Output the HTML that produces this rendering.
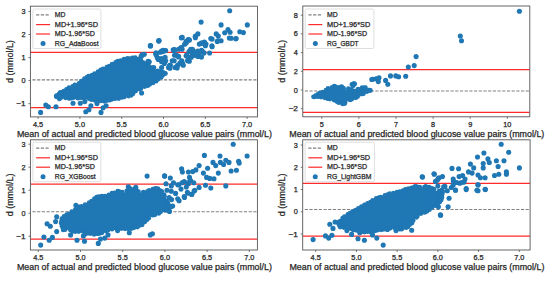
<!DOCTYPE html>
<html><head><meta charset="utf-8"><style>
html,body{margin:0;padding:0;background:#fff;width:550px;height:281px;overflow:hidden;}
svg{display:block;font-family:"Liberation Sans", sans-serif;}
text{stroke:#262626;stroke-width:0.25px;}
</style></head><body>
<svg width="550" height="281" viewBox="0 0 550 281" font-family='"Liberation Sans", sans-serif'>
<rect width="550" height="281" fill="#ffffff"/>
<g fill="#1f77b4">
<clipPath id="cTL"><rect x="30.4" y="6.2" width="227.1" height="110.7"/></clipPath>
<g clip-path="url(#cTL)">
<line x1="32.4" y1="79.9" x2="257.5" y2="79.9" stroke="#808080" stroke-width="1.1" stroke-dasharray="3.2 1.5"/>
<line x1="30.4" y1="52.4" x2="257.5" y2="52.4" stroke="#ff2a2a" stroke-width="1.2"/>
<line x1="30.4" y1="107.6" x2="257.5" y2="107.6" stroke="#ff2a2a" stroke-width="1.2"/>
<polygon points="57.3,95.67 57.3,96.32 62.79,97.32 70.66,98.29 82.69,97.6 82.88,97.6 83.07,97.62 83.26,97.66 91.23,99.62 105.01,101.08 116.91,98.64 130.6,95.75 137.32,89.6 137.47,89.47 137.63,89.36 137.81,89.27 137.99,89.2 145.31,86.73 154,82.87 161.73,76.59 164.94,73.38 162.24,71.76 155.48,69.83 155.31,69.77 155.15,69.7 154.99,69.61 139.03,59.64 135.15,57.48 125.78,58.96 118.02,60.88 108.05,66.64 107.96,66.7 97.86,71.79 87.76,76.94 77.75,83.58 77.54,83.71 67.45,88.65 61.49,92.66"/>
<circle cx="56.94" cy="95.54" r="2.4"/>
<circle cx="59.14" cy="93.94" r="2.4"/>
<circle cx="61.72" cy="92.41" r="2.4"/>
<circle cx="63.84" cy="91.15" r="2.4"/>
<circle cx="66.46" cy="89.31" r="2.4"/>
<circle cx="68.96" cy="87.56" r="2.4"/>
<circle cx="72.67" cy="86.47" r="2.4"/>
<circle cx="74.9" cy="84.78" r="2.4"/>
<circle cx="79.01" cy="83.29" r="2.4"/>
<circle cx="81.36" cy="81.13" r="2.4"/>
<circle cx="84.42" cy="78.73" r="2.4"/>
<circle cx="87.08" cy="77.23" r="2.4"/>
<circle cx="88.64" cy="76.16" r="2.4"/>
<circle cx="92.04" cy="75.13" r="2.4"/>
<circle cx="94.65" cy="73.57" r="2.4"/>
<circle cx="98.1" cy="71.6" r="2.4"/>
<circle cx="100.73" cy="69.96" r="2.4"/>
<circle cx="102.97" cy="68.97" r="2.4"/>
<circle cx="106.84" cy="67.24" r="2.4"/>
<circle cx="109.33" cy="66.05" r="2.4"/>
<circle cx="112.19" cy="64.1" r="2.4"/>
<circle cx="115.65" cy="62.51" r="2.4"/>
<circle cx="117.62" cy="61.24" r="2.4"/>
<circle cx="120.66" cy="60.63" r="2.4"/>
<circle cx="123.99" cy="59.26" r="2.4"/>
<circle cx="127.39" cy="58.41" r="2.4"/>
<circle cx="129.77" cy="58.62" r="2.4"/>
<circle cx="132.51" cy="57.94" r="2.4"/>
<circle cx="135.14" cy="57.65" r="2.4"/>
<circle cx="138.12" cy="59.26" r="2.4"/>
<circle cx="141.08" cy="60.78" r="2.4"/>
<circle cx="143.44" cy="62.55" r="2.4"/>
<circle cx="146.09" cy="64.06" r="2.4"/>
<circle cx="148.96" cy="66.37" r="2.4"/>
<circle cx="151.33" cy="67.56" r="2.4"/>
<circle cx="153.49" cy="68.94" r="2.4"/>
<circle cx="157.8" cy="71" r="2.4"/>
<circle cx="161.36" cy="71.36" r="2.4"/>
<circle cx="163.05" cy="72.48" r="2.4"/>
<circle cx="164.99" cy="73.33" r="2.4"/>
<circle cx="165.37" cy="73.55" r="2.4"/>
<circle cx="163.15" cy="74.75" r="2.4"/>
<circle cx="161.18" cy="77.26" r="2.4"/>
<circle cx="157.99" cy="79.13" r="2.4"/>
<circle cx="156.11" cy="81.15" r="2.4"/>
<circle cx="153.14" cy="82.82" r="2.4"/>
<circle cx="149.79" cy="84.32" r="2.4"/>
<circle cx="147.8" cy="85.65" r="2.4"/>
<circle cx="144.73" cy="86.51" r="2.4"/>
<circle cx="140.96" cy="88.48" r="2.4"/>
<circle cx="139.07" cy="89.04" r="2.4"/>
<circle cx="135.63" cy="91.09" r="2.4"/>
<circle cx="132.96" cy="93.81" r="2.4"/>
<circle cx="131.17" cy="95.25" r="2.4"/>
<circle cx="128.59" cy="96.06" r="2.4"/>
<circle cx="124.48" cy="96.82" r="2.4"/>
<circle cx="122.02" cy="97.4" r="2.4"/>
<circle cx="118.71" cy="98.62" r="2.4"/>
<circle cx="115.06" cy="98.71" r="2.4"/>
<circle cx="111.93" cy="99.34" r="2.4"/>
<circle cx="109.6" cy="100.18" r="2.4"/>
<circle cx="106.84" cy="100.53" r="2.4"/>
<circle cx="104.31" cy="101.35" r="2.4"/>
<circle cx="100.86" cy="100.9" r="2.4"/>
<circle cx="97.43" cy="100.63" r="2.4"/>
<circle cx="94.76" cy="100.26" r="2.4"/>
<circle cx="91.41" cy="99.72" r="2.4"/>
<circle cx="88.73" cy="98.61" r="2.4"/>
<circle cx="84.51" cy="98.24" r="2.4"/>
<circle cx="81.41" cy="97.76" r="2.4"/>
<circle cx="78.01" cy="98.16" r="2.4"/>
<circle cx="73.95" cy="97.61" r="2.4"/>
<circle cx="71.37" cy="98.22" r="2.4"/>
<circle cx="69.07" cy="98.41" r="2.4"/>
<circle cx="65.47" cy="97.81" r="2.4"/>
<circle cx="61.57" cy="97.36" r="2.4"/>
<circle cx="59.8" cy="96.31" r="2.4"/>
<circle cx="56.66" cy="96.85" r="2.4"/>
<circle cx="40.6" cy="112.4" r="2.55"/>
<circle cx="45.8" cy="105.1" r="2.55"/>
<circle cx="48.3" cy="106.7" r="2.55"/>
<circle cx="56" cy="106.7" r="2.55"/>
<circle cx="56.4" cy="96.1" r="2.55"/>
<circle cx="60.4" cy="92.5" r="2.55"/>
<circle cx="59.4" cy="98.6" r="2.55"/>
<circle cx="73" cy="103.2" r="2.55"/>
<circle cx="80.3" cy="103.2" r="2.55"/>
<circle cx="85.8" cy="111.8" r="2.55"/>
<circle cx="88.9" cy="109.7" r="2.55"/>
<circle cx="90.9" cy="105.7" r="2.55"/>
<circle cx="101" cy="112.4" r="2.55"/>
<circle cx="103.1" cy="107.7" r="2.55"/>
<circle cx="106.1" cy="105.7" r="2.55"/>
<circle cx="84.8" cy="101.6" r="2.55"/>
<circle cx="97" cy="103.6" r="2.55"/>
<circle cx="141.6" cy="93" r="2.55"/>
<circle cx="229.7" cy="10.7" r="2.55"/>
<circle cx="201.1" cy="22.1" r="2.55"/>
<circle cx="221.1" cy="24.9" r="2.55"/>
<circle cx="247.3" cy="24.9" r="2.55"/>
<circle cx="228" cy="29.6" r="2.55"/>
<circle cx="224.7" cy="32.8" r="2.55"/>
<circle cx="230.1" cy="32.2" r="2.55"/>
<circle cx="239.8" cy="31.7" r="2.55"/>
<circle cx="243.4" cy="32.6" r="2.55"/>
<circle cx="216.2" cy="33.9" r="2.55"/>
<circle cx="218.3" cy="36" r="2.55"/>
<circle cx="197.9" cy="33.9" r="2.55"/>
<circle cx="195.4" cy="37.8" r="2.55"/>
<circle cx="181.8" cy="37.8" r="2.55"/>
<circle cx="158.9" cy="40.8" r="2.55"/>
<circle cx="150.3" cy="45.9" r="2.55"/>
<circle cx="210.8" cy="38.6" r="2.55"/>
<circle cx="231.2" cy="38.2" r="2.55"/>
<circle cx="236.1" cy="38.6" r="2.55"/>
<circle cx="221.1" cy="40.8" r="2.55"/>
<circle cx="217.2" cy="41.4" r="2.55"/>
<circle cx="204.4" cy="42" r="2.55"/>
<circle cx="201.1" cy="43.5" r="2.55"/>
<circle cx="205.4" cy="45.7" r="2.55"/>
<circle cx="211.9" cy="45.7" r="2.55"/>
<circle cx="186.1" cy="41.4" r="2.55"/>
<circle cx="188.3" cy="39.9" r="2.55"/>
<circle cx="184.6" cy="44.2" r="2.55"/>
<circle cx="180.8" cy="47.8" r="2.55"/>
<circle cx="174.3" cy="50" r="2.55"/>
<circle cx="165.7" cy="50.6" r="2.55"/>
<circle cx="161.5" cy="51.1" r="2.55"/>
<circle cx="156.1" cy="52.8" r="2.55"/>
<circle cx="191.5" cy="50" r="2.55"/>
<circle cx="197.9" cy="51.1" r="2.55"/>
<circle cx="202.2" cy="51.1" r="2.55"/>
<circle cx="192.6" cy="54.3" r="2.55"/>
<circle cx="186.1" cy="55.8" r="2.55"/>
<circle cx="178.6" cy="56.4" r="2.55"/>
<circle cx="197.9" cy="56.4" r="2.55"/>
<circle cx="141.1" cy="56.4" r="2.55"/>
<circle cx="144.3" cy="54.3" r="2.55"/>
<circle cx="157.2" cy="57.5" r="2.55"/>
<circle cx="161.5" cy="58.6" r="2.55"/>
<circle cx="165.7" cy="60.7" r="2.55"/>
<circle cx="148.6" cy="61.8" r="2.55"/>
<circle cx="172.2" cy="60.7" r="2.55"/>
<circle cx="181.8" cy="60.7" r="2.55"/>
<circle cx="158.7" cy="41.1" r="2.55"/>
<circle cx="150.6" cy="45.6" r="2.55"/>
<circle cx="182.2" cy="37.4" r="2.55"/>
<circle cx="188.3" cy="39.5" r="2.55"/>
<circle cx="186.3" cy="42.7" r="2.55"/>
<circle cx="195.2" cy="36.6" r="2.55"/>
<circle cx="201.9" cy="42.7" r="2.55"/>
<circle cx="206" cy="44.1" r="2.55"/>
<circle cx="212.1" cy="39.1" r="2.55"/>
<circle cx="218.1" cy="40.7" r="2.55"/>
<circle cx="212.1" cy="46.8" r="2.55"/>
<circle cx="199.3" cy="44.1" r="2.55"/>
<circle cx="229.3" cy="38" r="2.55"/>
<circle cx="235.8" cy="38.7" r="2.55"/>
<circle cx="174.5" cy="49.6" r="2.55"/>
<circle cx="178.6" cy="49.2" r="2.55"/>
<circle cx="181.6" cy="47.6" r="2.55"/>
<circle cx="190.7" cy="49.2" r="2.55"/>
<circle cx="193.8" cy="51.2" r="2.55"/>
<circle cx="200.9" cy="51.2" r="2.55"/>
<circle cx="203.9" cy="52.9" r="2.55"/>
<circle cx="164.4" cy="50.8" r="2.55"/>
<circle cx="160.3" cy="52.3" r="2.55"/>
<circle cx="156.2" cy="54.3" r="2.55"/>
<circle cx="174.5" cy="55.3" r="2.55"/>
<circle cx="178.6" cy="56.9" r="2.55"/>
<circle cx="187.7" cy="60.4" r="2.55"/>
<circle cx="182.6" cy="63.4" r="2.55"/>
<circle cx="189.7" cy="57.3" r="2.55"/>
<circle cx="194.8" cy="55.3" r="2.55"/>
<circle cx="198.9" cy="56.3" r="2.55"/>
<circle cx="175.5" cy="67.5" r="2.55"/>
<circle cx="177.5" cy="65.4" r="2.55"/>
<circle cx="142" cy="54.9" r="2.55"/>
<circle cx="148.1" cy="61.4" r="2.55"/>
<circle cx="158.3" cy="59.4" r="2.55"/>
<circle cx="164.4" cy="63.4" r="2.55"/>
<circle cx="170.4" cy="65.4" r="2.55"/>
<circle cx="159" cy="40.6" r="2.55"/>
<circle cx="150.5" cy="45.8" r="2.55"/>
<circle cx="148.9" cy="62.1" r="2.55"/>
<circle cx="156" cy="54.4" r="2.55"/>
<circle cx="163.1" cy="50.3" r="2.55"/>
<circle cx="173.2" cy="49.9" r="2.55"/>
<circle cx="181.3" cy="37.7" r="2.55"/>
<circle cx="185.4" cy="43.2" r="2.55"/>
<circle cx="189.5" cy="40.1" r="2.55"/>
<circle cx="195.5" cy="36.1" r="2.55"/>
<circle cx="170" cy="68.3" r="2.55"/>
<circle cx="177.1" cy="67.9" r="2.55"/>
<circle cx="182.2" cy="64.2" r="2.55"/>
<circle cx="189.3" cy="61.2" r="2.55"/>
<circle cx="201.5" cy="57.1" r="2.55"/>
<circle cx="209.6" cy="53" r="2.55"/>
<circle cx="142.3" cy="55" r="2.55"/>
<circle cx="149.1" cy="61.8" r="2.55"/>
<circle cx="156" cy="53.8" r="2.55"/>
<circle cx="158.2" cy="58.4" r="2.55"/>
<circle cx="161.6" cy="61.8" r="2.55"/>
<circle cx="162.8" cy="51.6" r="2.55"/>
<circle cx="165.1" cy="57.3" r="2.55"/>
<circle cx="169.6" cy="65.2" r="2.55"/>
<circle cx="174.2" cy="50.4" r="2.55"/>
<circle cx="176.4" cy="55" r="2.55"/>
<circle cx="174.2" cy="60.7" r="2.55"/>
<circle cx="182.1" cy="49.3" r="2.55"/>
<circle cx="179.9" cy="63" r="2.55"/>
<circle cx="183.3" cy="65.2" r="2.55"/>
<circle cx="187.8" cy="60.7" r="2.55"/>
<circle cx="189" cy="51.6" r="2.55"/>
<circle cx="192.4" cy="49.3" r="2.55"/>
<circle cx="194.7" cy="55" r="2.55"/>
<circle cx="199.2" cy="52.7" r="2.55"/>
<circle cx="201.5" cy="50.4" r="2.55"/>
<circle cx="203.8" cy="52.7" r="2.55"/>
<circle cx="191.3" cy="57.3" r="2.55"/>
<circle cx="186.7" cy="55" r="2.55"/>
<circle cx="144.6" cy="67.5" r="2.55"/>
<circle cx="153.7" cy="67.5" r="2.55"/>
<circle cx="161.6" cy="67.5" r="2.55"/>
<circle cx="168.5" cy="67.5" r="2.55"/>
<circle cx="175.3" cy="67.5" r="2.55"/>
</g>
<rect x="30.4" y="6.2" width="227.1" height="110.7" fill="none" stroke="#555555" stroke-width="0.9"/>
<line x1="38.1" y1="116.9" x2="38.1" y2="118.9" stroke="#555555" stroke-width="0.8"/>
<text x="38.1" y="127.1" text-anchor="middle" font-size="7" fill="#262626" textLength="10.18" lengthAdjust="spacingAndGlyphs">4.5</text>
<line x1="79.9" y1="116.9" x2="79.9" y2="118.9" stroke="#555555" stroke-width="0.8"/>
<text x="79.9" y="127.1" text-anchor="middle" font-size="7" fill="#262626" textLength="10.18" lengthAdjust="spacingAndGlyphs">5.0</text>
<line x1="121.7" y1="116.9" x2="121.7" y2="118.9" stroke="#555555" stroke-width="0.8"/>
<text x="121.7" y="127.1" text-anchor="middle" font-size="7" fill="#262626" textLength="10.18" lengthAdjust="spacingAndGlyphs">5.5</text>
<line x1="163.5" y1="116.9" x2="163.5" y2="118.9" stroke="#555555" stroke-width="0.8"/>
<text x="163.5" y="127.1" text-anchor="middle" font-size="7" fill="#262626" textLength="10.18" lengthAdjust="spacingAndGlyphs">6.0</text>
<line x1="205.3" y1="116.9" x2="205.3" y2="118.9" stroke="#555555" stroke-width="0.8"/>
<text x="205.3" y="127.1" text-anchor="middle" font-size="7" fill="#262626" textLength="10.18" lengthAdjust="spacingAndGlyphs">6.5</text>
<line x1="247.1" y1="116.9" x2="247.1" y2="118.9" stroke="#555555" stroke-width="0.8"/>
<text x="247.1" y="127.1" text-anchor="middle" font-size="7" fill="#262626" textLength="10.18" lengthAdjust="spacingAndGlyphs">7.0</text>
<line x1="28.4" y1="103.65" x2="30.4" y2="103.65" stroke="#555555" stroke-width="0.8"/>
<text x="25.5" y="106.15" text-anchor="end" font-size="7" fill="#262626" textLength="9.43" lengthAdjust="spacingAndGlyphs">−1</text>
<line x1="28.4" y1="80.6" x2="30.4" y2="80.6" stroke="#555555" stroke-width="0.8"/>
<text x="25.5" y="83.1" text-anchor="end" font-size="7" fill="#262626" textLength="4.07" lengthAdjust="spacingAndGlyphs">0</text>
<line x1="28.4" y1="57.55" x2="30.4" y2="57.55" stroke="#555555" stroke-width="0.8"/>
<text x="25.5" y="60.05" text-anchor="end" font-size="7" fill="#262626" textLength="4.07" lengthAdjust="spacingAndGlyphs">1</text>
<line x1="28.4" y1="34.5" x2="30.4" y2="34.5" stroke="#555555" stroke-width="0.8"/>
<text x="25.5" y="37" text-anchor="end" font-size="7" fill="#262626" textLength="4.07" lengthAdjust="spacingAndGlyphs">2</text>
<line x1="28.4" y1="11.45" x2="30.4" y2="11.45" stroke="#555555" stroke-width="0.8"/>
<text x="25.5" y="13.95" text-anchor="end" font-size="7" fill="#262626" textLength="4.07" lengthAdjust="spacingAndGlyphs">3</text>
<text x="144.45" y="136.8" text-anchor="middle" font-size="8.9" fill="#262626" textLength="255" lengthAdjust="spacingAndGlyphs">Mean of actual and predicted blood glucose value pairs (mmol/L)</text>
<text transform="translate(12.8,61.55) rotate(-90)" x="0" y="0" text-anchor="middle" font-size="8.9" fill="#262626" textLength="42.8" lengthAdjust="spacingAndGlyphs">d (mmol/L)</text>
<rect x="32.9" y="9" width="68" height="39.5" rx="1.5" fill="#ffffff" fill-opacity="0.8" stroke="#d5d5d5" stroke-width="0.8"/>
<line x1="36.1" y1="14.9" x2="50" y2="14.9" stroke="#808080" stroke-width="1.1" stroke-dasharray="3.2 1.5"/>
<line x1="36.1" y1="24.6" x2="50" y2="24.6" stroke="#ff2a2a" stroke-width="1.2"/>
<line x1="36.1" y1="34" x2="50" y2="34" stroke="#ff2a2a" stroke-width="1.2"/>
<circle cx="43.05" cy="43.6" r="2.5" fill="#1f77b4"/>
<text x="54.8" y="17.1" font-size="7.3" fill="#262626" textLength="10.68" lengthAdjust="spacingAndGlyphs">MD</text>
<text x="54.8" y="26.8" font-size="7.3" fill="#262626" textLength="43.18" lengthAdjust="spacingAndGlyphs">MD+1.96*SD</text>
<text x="54.8" y="36.2" font-size="7.3" fill="#262626" textLength="40.06" lengthAdjust="spacingAndGlyphs">MD-1.96*SD</text>
<text x="54.8" y="45.8" font-size="7.3" fill="#262626" textLength="43.86" lengthAdjust="spacingAndGlyphs">RG_AdaBoost</text>
<clipPath id="cTR"><rect x="302.8" y="6" width="227" height="110.8"/></clipPath>
<g clip-path="url(#cTR)">
<line x1="304.8" y1="91" x2="529.8" y2="91" stroke="#808080" stroke-width="1.1" stroke-dasharray="3.2 1.5"/>
<line x1="302.8" y1="69.7" x2="529.8" y2="69.7" stroke="#ff2a2a" stroke-width="1.2"/>
<line x1="302.8" y1="112.3" x2="529.8" y2="112.3" stroke="#ff2a2a" stroke-width="1.2"/>
<polygon points="314.41,96.76 316.65,97.1 321.5,97.1 321.66,97.11 321.81,97.13 321.97,97.16 326.98,98.44 330.79,99.02 330.98,99.06 331.17,99.12 331.35,99.2 335.15,101.1 338.71,102.88 342.07,103.5 344.7,103.5 345.43,102.43 345.55,102.28 345.67,102.14 345.82,102.01 345.97,101.9 346.13,101.81 346.31,101.73 351.33,99.76 354.95,97.95 358.66,95.51 358.84,95.41 359.04,95.32 364.03,93.46 368.9,90.98 369.55,90.5 368.7,89.68 365.51,87.5 362.62,87.5 359.12,88.7 358.91,88.75 358.71,88.79 358.5,88.8 354.6,88.8 354.41,88.79 354.22,88.76 354.04,88.71 353.86,88.65 353.69,88.57 353.52,88.47 353.37,88.35 353.23,88.22 353.11,88.08 353,87.92 352.9,87.76 352.83,87.58 352.77,87.4 352.73,87.21 352.7,87.03 352.7,86.83 352.72,86.65 352.75,86.46 352.81,86.28 352.88,86.1 352.97,85.93 354.11,84 353.55,83.43 352.18,83.99 350.6,87.15 350.51,87.3 350.41,87.45 350.3,87.59 350.17,87.71 350.03,87.82 349.89,87.92 349.73,88.01 349.57,88.08 346.37,89.28 346.2,89.33 346.02,89.37 345.85,89.39 345.67,89.4 345.49,89.39 345.31,89.36 345.14,89.32 344.97,89.25 344.81,89.18 344.66,89.09 341.47,86.99 338.4,87.48 338.2,87.5 338,87.5 337.81,87.48 337.62,87.44 337.43,87.38 337.25,87.3 334.3,85.82 331.35,87.3 331.22,87.36 328.14,88.61 323.75,91.15 323.64,91.21 318.54,93.7 315.25,95.35"/>
<circle cx="313.55" cy="96.86" r="2.4"/>
<circle cx="315.65" cy="95.61" r="2.4"/>
<circle cx="317.78" cy="94.34" r="2.4"/>
<circle cx="319.64" cy="93.09" r="2.4"/>
<circle cx="322.54" cy="92.07" r="2.4"/>
<circle cx="326" cy="90.19" r="2.4"/>
<circle cx="328.06" cy="88.43" r="2.4"/>
<circle cx="332.13" cy="87.45" r="2.4"/>
<circle cx="334.34" cy="86.05" r="2.4"/>
<circle cx="335.84" cy="86.89" r="2.4"/>
<circle cx="339.21" cy="87.42" r="2.4"/>
<circle cx="341.63" cy="86.61" r="2.4"/>
<circle cx="343.49" cy="88.14" r="2.4"/>
<circle cx="348.39" cy="88.76" r="2.4"/>
<circle cx="351.94" cy="84.48" r="2.4"/>
<circle cx="353.47" cy="83.99" r="2.4"/>
<circle cx="353.9" cy="83.69" r="2.4"/>
<circle cx="354.71" cy="83.96" r="2.4"/>
<circle cx="353.34" cy="85.72" r="2.4"/>
<circle cx="358.12" cy="89.21" r="2.4"/>
<circle cx="362.12" cy="87.7" r="2.4"/>
<circle cx="364.36" cy="87.82" r="2.4"/>
<circle cx="365.41" cy="87.66" r="2.4"/>
<circle cx="368.71" cy="90.12" r="2.4"/>
<circle cx="370.44" cy="90.52" r="2.4"/>
<circle cx="369.35" cy="90.27" r="2.4"/>
<circle cx="366.81" cy="91.68" r="2.4"/>
<circle cx="363.37" cy="93.75" r="2.4"/>
<circle cx="361.05" cy="94.09" r="2.4"/>
<circle cx="357.61" cy="96.49" r="2.4"/>
<circle cx="355.75" cy="97.74" r="2.4"/>
<circle cx="351.72" cy="99.2" r="2.4"/>
<circle cx="350.07" cy="99.89" r="2.4"/>
<circle cx="345.07" cy="102.62" r="2.4"/>
<circle cx="344.72" cy="103.54" r="2.4"/>
<circle cx="342.59" cy="103.89" r="2.4"/>
<circle cx="338.76" cy="102.72" r="2.4"/>
<circle cx="336.92" cy="101.49" r="2.4"/>
<circle cx="334.16" cy="100.18" r="2.4"/>
<circle cx="329.89" cy="99.1" r="2.4"/>
<circle cx="327.64" cy="98.68" r="2.4"/>
<circle cx="324.77" cy="97.74" r="2.4"/>
<circle cx="321.12" cy="97.12" r="2.4"/>
<circle cx="318.12" cy="96.68" r="2.4"/>
<circle cx="314.87" cy="96.82" r="2.4"/>
<circle cx="519.4" cy="11.2" r="2.55"/>
<circle cx="460.3" cy="36" r="2.55"/>
<circle cx="461.5" cy="40.7" r="2.55"/>
<circle cx="416.1" cy="56.6" r="2.55"/>
<circle cx="414.2" cy="65.6" r="2.55"/>
<circle cx="408.3" cy="67" r="2.55"/>
<circle cx="405.7" cy="76.3" r="2.55"/>
<circle cx="390.5" cy="75.9" r="2.55"/>
<circle cx="395.8" cy="75.9" r="2.55"/>
<circle cx="398.6" cy="76.8" r="2.55"/>
<circle cx="385.6" cy="80.4" r="2.55"/>
<circle cx="387.8" cy="84.2" r="2.55"/>
<circle cx="372.7" cy="79.3" r="2.55"/>
<circle cx="376.1" cy="78.8" r="2.55"/>
<circle cx="379" cy="77.8" r="2.55"/>
<circle cx="378.3" cy="81.6" r="2.55"/>
<circle cx="371.8" cy="79.5" r="2.55"/>
</g>
<rect x="302.8" y="6" width="227" height="110.8" fill="none" stroke="#555555" stroke-width="0.9"/>
<line x1="321.8" y1="116.8" x2="321.8" y2="118.8" stroke="#555555" stroke-width="0.8"/>
<text x="321.8" y="127" text-anchor="middle" font-size="7" fill="#262626" textLength="4.07" lengthAdjust="spacingAndGlyphs">5</text>
<line x1="358.9" y1="116.8" x2="358.9" y2="118.8" stroke="#555555" stroke-width="0.8"/>
<text x="358.9" y="127" text-anchor="middle" font-size="7" fill="#262626" textLength="4.07" lengthAdjust="spacingAndGlyphs">6</text>
<line x1="396" y1="116.8" x2="396" y2="118.8" stroke="#555555" stroke-width="0.8"/>
<text x="396" y="127" text-anchor="middle" font-size="7" fill="#262626" textLength="4.07" lengthAdjust="spacingAndGlyphs">7</text>
<line x1="433.1" y1="116.8" x2="433.1" y2="118.8" stroke="#555555" stroke-width="0.8"/>
<text x="433.1" y="127" text-anchor="middle" font-size="7" fill="#262626" textLength="4.07" lengthAdjust="spacingAndGlyphs">8</text>
<line x1="470.2" y1="116.8" x2="470.2" y2="118.8" stroke="#555555" stroke-width="0.8"/>
<text x="470.2" y="127" text-anchor="middle" font-size="7" fill="#262626" textLength="4.07" lengthAdjust="spacingAndGlyphs">9</text>
<line x1="507.3" y1="116.8" x2="507.3" y2="118.8" stroke="#555555" stroke-width="0.8"/>
<text x="507.3" y="127" text-anchor="middle" font-size="7" fill="#262626" textLength="8.14" lengthAdjust="spacingAndGlyphs">10</text>
<line x1="300.8" y1="108.7" x2="302.8" y2="108.7" stroke="#555555" stroke-width="0.8"/>
<text x="297.9" y="111.2" text-anchor="end" font-size="7" fill="#262626" textLength="9.43" lengthAdjust="spacingAndGlyphs">−2</text>
<line x1="300.8" y1="90" x2="302.8" y2="90" stroke="#555555" stroke-width="0.8"/>
<text x="297.9" y="92.5" text-anchor="end" font-size="7" fill="#262626" textLength="4.07" lengthAdjust="spacingAndGlyphs">0</text>
<line x1="300.8" y1="71.3" x2="302.8" y2="71.3" stroke="#555555" stroke-width="0.8"/>
<text x="297.9" y="73.8" text-anchor="end" font-size="7" fill="#262626" textLength="4.07" lengthAdjust="spacingAndGlyphs">2</text>
<line x1="300.8" y1="52.6" x2="302.8" y2="52.6" stroke="#555555" stroke-width="0.8"/>
<text x="297.9" y="55.1" text-anchor="end" font-size="7" fill="#262626" textLength="4.07" lengthAdjust="spacingAndGlyphs">4</text>
<line x1="300.8" y1="33.9" x2="302.8" y2="33.9" stroke="#555555" stroke-width="0.8"/>
<text x="297.9" y="36.4" text-anchor="end" font-size="7" fill="#262626" textLength="4.07" lengthAdjust="spacingAndGlyphs">6</text>
<line x1="300.8" y1="15.2" x2="302.8" y2="15.2" stroke="#555555" stroke-width="0.8"/>
<text x="297.9" y="17.7" text-anchor="end" font-size="7" fill="#262626" textLength="4.07" lengthAdjust="spacingAndGlyphs">8</text>
<text x="416.8" y="136.7" text-anchor="middle" font-size="8.9" fill="#262626" textLength="255" lengthAdjust="spacingAndGlyphs">Mean of actual and predicted blood glucose value pairs (mmol/L)</text>
<text transform="translate(285.2,61.4) rotate(-90)" x="0" y="0" text-anchor="middle" font-size="8.9" fill="#262626" textLength="42.8" lengthAdjust="spacingAndGlyphs">d (mmol/L)</text>
<rect x="305.2" y="9" width="68.7" height="39.5" rx="1.5" fill="#ffffff" fill-opacity="0.8" stroke="#d5d5d5" stroke-width="0.8"/>
<line x1="308.4" y1="14.9" x2="322.3" y2="14.9" stroke="#808080" stroke-width="1.1" stroke-dasharray="3.2 1.5"/>
<line x1="308.4" y1="24.6" x2="322.3" y2="24.6" stroke="#ff2a2a" stroke-width="1.2"/>
<line x1="308.4" y1="34" x2="322.3" y2="34" stroke="#ff2a2a" stroke-width="1.2"/>
<circle cx="315.35" cy="43.6" r="2.5" fill="#1f77b4"/>
<text x="327.1" y="17.1" font-size="7.3" fill="#262626" textLength="10.68" lengthAdjust="spacingAndGlyphs">MD</text>
<text x="327.1" y="26.8" font-size="7.3" fill="#262626" textLength="43.18" lengthAdjust="spacingAndGlyphs">MD+1.96*SD</text>
<text x="327.1" y="36.2" font-size="7.3" fill="#262626" textLength="40.06" lengthAdjust="spacingAndGlyphs">MD-1.96*SD</text>
<text x="327.1" y="45.8" font-size="7.3" fill="#262626" textLength="31.47" lengthAdjust="spacingAndGlyphs">RG_GBDT</text>
<clipPath id="cBL"><rect x="30.4" y="139.8" width="227" height="110.2"/></clipPath>
<g clip-path="url(#cBL)">
<line x1="32.4" y1="211.7" x2="257.4" y2="211.7" stroke="#808080" stroke-width="1.1" stroke-dasharray="3.2 1.5"/>
<line x1="30.4" y1="184.2" x2="257.4" y2="184.2" stroke="#ff2a2a" stroke-width="1.2"/>
<line x1="30.4" y1="239.2" x2="257.4" y2="239.2" stroke="#ff2a2a" stroke-width="1.2"/>
<polygon points="60.77,222.95 63.31,229.7 68.4,229.7 68.61,229.71 68.81,229.74 69.01,229.8 75.05,231.85 80.98,230.83 81.18,230.8 81.38,230.8 81.58,230.82 81.78,230.86 81.97,230.92 90.15,234 97.96,234 106.23,230.92 114.73,227.72 114.91,227.67 115.09,227.63 115.27,227.6 115.46,227.6 115.64,227.62 124.12,228.7 129.76,228.7 137.89,226.6 141.97,224.87 146.69,220.62 150.66,216.66 150.79,216.53 150.94,216.42 151.1,216.33 151.27,216.25 157.21,213.77 161.15,211.8 161.32,211.73 161.49,211.67 168.36,209.75 170.38,207.03 168.41,204.04 168.3,203.85 166.3,199.85 166.24,199.71 164.33,194.94 161.7,191.44 157.18,188.72 156.06,188.31 150.29,190.21 150.17,190.24 145.88,191.34 141.68,192.44 141.5,192.48 141.31,192.5 141.12,192.5 140.94,192.48 140.75,192.45 140.57,192.39 140.4,192.32 140.23,192.23 135.15,189.23 128.98,188.32 125.46,191.93 125.32,192.05 125.18,192.16 125.02,192.26 124.86,192.34 124.69,192.41 124.51,192.46 124.33,192.49 124.14,192.5 123.96,192.49 123.78,192.47 117.84,191.45 111.91,193.4 105.52,195.6 105.33,195.65 105.14,195.68 97.04,196.72 88.94,202.82 88.8,202.92 88.65,203 82.25,206.2 82.1,206.27 81.94,206.32 81.78,206.36 81.61,206.39 77.28,206.87 76.63,208.29 76.54,208.45 76.44,208.61 76.33,208.75 76.2,208.89 76.06,209 75.91,209.11 68.44,213.79 63.67,217.01 61.63,218.8"/>
<circle cx="61.14" cy="222.94" r="2.4"/>
<circle cx="61.71" cy="220.54" r="2.4"/>
<circle cx="61.99" cy="218.6" r="2.4"/>
<circle cx="64.03" cy="216.3" r="2.4"/>
<circle cx="66.67" cy="214.7" r="2.4"/>
<circle cx="69.02" cy="213.8" r="2.4"/>
<circle cx="71.83" cy="211.7" r="2.4"/>
<circle cx="75.35" cy="209.58" r="2.4"/>
<circle cx="77.32" cy="206.89" r="2.4"/>
<circle cx="79.04" cy="206.98" r="2.4"/>
<circle cx="81.5" cy="206.51" r="2.4"/>
<circle cx="85.16" cy="204.58" r="2.4"/>
<circle cx="89.17" cy="202.72" r="2.4"/>
<circle cx="91.61" cy="201.17" r="2.4"/>
<circle cx="94.46" cy="198.66" r="2.4"/>
<circle cx="96.68" cy="197.06" r="2.4"/>
<circle cx="98.62" cy="196.74" r="2.4"/>
<circle cx="101.71" cy="196.2" r="2.4"/>
<circle cx="104.99" cy="196.15" r="2.4"/>
<circle cx="108.83" cy="194.87" r="2.4"/>
<circle cx="112.05" cy="193.18" r="2.4"/>
<circle cx="114.71" cy="192.95" r="2.4"/>
<circle cx="117.79" cy="191.17" r="2.4"/>
<circle cx="119.18" cy="191.68" r="2.4"/>
<circle cx="122.31" cy="192.03" r="2.4"/>
<circle cx="126.79" cy="190.85" r="2.4"/>
<circle cx="129.04" cy="188.51" r="2.4"/>
<circle cx="130.23" cy="188.75" r="2.4"/>
<circle cx="134.3" cy="188.83" r="2.4"/>
<circle cx="136.57" cy="190.61" r="2.4"/>
<circle cx="138.43" cy="191.7" r="2.4"/>
<circle cx="143.33" cy="192.05" r="2.4"/>
<circle cx="147.44" cy="191.3" r="2.4"/>
<circle cx="149.18" cy="190.48" r="2.4"/>
<circle cx="152.89" cy="189.25" r="2.4"/>
<circle cx="155.46" cy="188.39" r="2.4"/>
<circle cx="157.89" cy="188.71" r="2.4"/>
<circle cx="160.23" cy="190.55" r="2.4"/>
<circle cx="161.78" cy="191.37" r="2.4"/>
<circle cx="164.11" cy="194.75" r="2.4"/>
<circle cx="164.45" cy="196.54" r="2.4"/>
<circle cx="166.23" cy="200.77" r="2.4"/>
<circle cx="167.75" cy="202.38" r="2.4"/>
<circle cx="169.02" cy="205.51" r="2.4"/>
<circle cx="170.95" cy="207.1" r="2.4"/>
<circle cx="168.62" cy="208.69" r="2.4"/>
<circle cx="166.9" cy="210.33" r="2.4"/>
<circle cx="164.68" cy="210.33" r="2.4"/>
<circle cx="160.63" cy="211.8" r="2.4"/>
<circle cx="158.7" cy="213.42" r="2.4"/>
<circle cx="154.85" cy="214.77" r="2.4"/>
<circle cx="152.61" cy="215.21" r="2.4"/>
<circle cx="148.67" cy="218.19" r="2.4"/>
<circle cx="146.98" cy="219.81" r="2.4"/>
<circle cx="144.72" cy="221.89" r="2.4"/>
<circle cx="142.18" cy="224.81" r="2.4"/>
<circle cx="139.45" cy="225.46" r="2.4"/>
<circle cx="137.38" cy="227.02" r="2.4"/>
<circle cx="133.83" cy="227.84" r="2.4"/>
<circle cx="131.38" cy="228.54" r="2.4"/>
<circle cx="128.72" cy="228.92" r="2.4"/>
<circle cx="125.07" cy="228.83" r="2.4"/>
<circle cx="121.38" cy="228.49" r="2.4"/>
<circle cx="118.58" cy="228.23" r="2.4"/>
<circle cx="115.54" cy="227.99" r="2.4"/>
<circle cx="112.02" cy="229.16" r="2.4"/>
<circle cx="108.1" cy="230.11" r="2.4"/>
<circle cx="105.94" cy="231" r="2.4"/>
<circle cx="101.91" cy="232.86" r="2.4"/>
<circle cx="98.96" cy="233.64" r="2.4"/>
<circle cx="97" cy="233.65" r="2.4"/>
<circle cx="93.95" cy="233.94" r="2.4"/>
<circle cx="90.25" cy="233.52" r="2.4"/>
<circle cx="88.52" cy="233.01" r="2.4"/>
<circle cx="84.89" cy="231.84" r="2.4"/>
<circle cx="82.24" cy="231.12" r="2.4"/>
<circle cx="78.72" cy="231.5" r="2.4"/>
<circle cx="75.43" cy="231.51" r="2.4"/>
<circle cx="72.95" cy="231.4" r="2.4"/>
<circle cx="70.36" cy="229.88" r="2.4"/>
<circle cx="65.21" cy="229.5" r="2.4"/>
<circle cx="63.27" cy="229.92" r="2.4"/>
<circle cx="62.98" cy="228.77" r="2.4"/>
<circle cx="61.91" cy="225.96" r="2.4"/>
<circle cx="40.7" cy="245.1" r="2.55"/>
<circle cx="43.9" cy="237" r="2.55"/>
<circle cx="49.2" cy="240.2" r="2.55"/>
<circle cx="52.4" cy="237.4" r="2.55"/>
<circle cx="47.1" cy="223.7" r="2.55"/>
<circle cx="50.3" cy="226.3" r="2.55"/>
<circle cx="56.7" cy="216.7" r="2.55"/>
<circle cx="56.7" cy="231.6" r="2.55"/>
<circle cx="55.6" cy="221.6" r="2.55"/>
<circle cx="75.9" cy="205.4" r="2.55"/>
<circle cx="77" cy="240.2" r="2.55"/>
<circle cx="84.5" cy="241.3" r="2.55"/>
<circle cx="83.4" cy="235.9" r="2.55"/>
<circle cx="85.5" cy="233.8" r="2.55"/>
<circle cx="98.3" cy="243.4" r="2.55"/>
<circle cx="100.5" cy="239.1" r="2.55"/>
<circle cx="104.8" cy="238.1" r="2.55"/>
<circle cx="108" cy="234.9" r="2.55"/>
<circle cx="70.6" cy="234.9" r="2.55"/>
<circle cx="94.1" cy="233.9" r="2.55"/>
<circle cx="117.6" cy="230.6" r="2.55"/>
<circle cx="129.3" cy="232.7" r="2.55"/>
<circle cx="150.3" cy="234.9" r="2.55"/>
<circle cx="152.4" cy="233.8" r="2.55"/>
<circle cx="184.5" cy="197.5" r="2.55"/>
<circle cx="179.1" cy="200.7" r="2.55"/>
<circle cx="187.7" cy="193.2" r="2.55"/>
<circle cx="191.9" cy="194.3" r="2.55"/>
<circle cx="194.1" cy="191.1" r="2.55"/>
<circle cx="169.5" cy="211.4" r="2.55"/>
<circle cx="172.7" cy="206" r="2.55"/>
<circle cx="171.6" cy="199.6" r="2.55"/>
<circle cx="147.1" cy="176.1" r="2.55"/>
<circle cx="164.7" cy="176.1" r="2.55"/>
<circle cx="128.3" cy="186.7" r="2.55"/>
<circle cx="135.8" cy="187.4" r="2.55"/>
<circle cx="233.2" cy="144.3" r="2.55"/>
<circle cx="204.4" cy="155.4" r="2.55"/>
<circle cx="220" cy="156" r="2.55"/>
<circle cx="247.1" cy="156" r="2.55"/>
<circle cx="213" cy="162.4" r="2.55"/>
<circle cx="215.7" cy="165.6" r="2.55"/>
<circle cx="220.4" cy="162.4" r="2.55"/>
<circle cx="225.8" cy="160.3" r="2.55"/>
<circle cx="223.6" cy="164.5" r="2.55"/>
<circle cx="229" cy="162.4" r="2.55"/>
<circle cx="238.6" cy="161.3" r="2.55"/>
<circle cx="239.2" cy="163.1" r="2.55"/>
<circle cx="231.1" cy="171" r="2.55"/>
<circle cx="236.4" cy="170.3" r="2.55"/>
<circle cx="218.3" cy="173.1" r="2.55"/>
<circle cx="207.6" cy="168.2" r="2.55"/>
<circle cx="199.1" cy="165.6" r="2.55"/>
<circle cx="195.9" cy="169.9" r="2.55"/>
<circle cx="192.7" cy="171.6" r="2.55"/>
<circle cx="188.4" cy="172" r="2.55"/>
<circle cx="181.6" cy="168.8" r="2.55"/>
<circle cx="182.4" cy="172" r="2.55"/>
<circle cx="203.4" cy="173.1" r="2.55"/>
<circle cx="206.6" cy="177.4" r="2.55"/>
<circle cx="209.8" cy="178.4" r="2.55"/>
<circle cx="214" cy="178.8" r="2.55"/>
<circle cx="164.5" cy="175.9" r="2.55"/>
<circle cx="170.3" cy="178" r="2.55"/>
<circle cx="189.5" cy="177.4" r="2.55"/>
<circle cx="190.6" cy="180.6" r="2.55"/>
<circle cx="184.2" cy="181.6" r="2.55"/>
<circle cx="178.8" cy="184.8" r="2.55"/>
<circle cx="173.5" cy="182.7" r="2.55"/>
<circle cx="166" cy="183.8" r="2.55"/>
<circle cx="188.4" cy="183.8" r="2.55"/>
<circle cx="193.8" cy="182.7" r="2.55"/>
<circle cx="205.5" cy="185.3" r="2.55"/>
<circle cx="225.8" cy="185.9" r="2.55"/>
<circle cx="210.8" cy="188" r="2.55"/>
<circle cx="199.1" cy="187.4" r="2.55"/>
<circle cx="194.8" cy="190.2" r="2.55"/>
<circle cx="187.4" cy="192.3" r="2.55"/>
<circle cx="191.6" cy="194.4" r="2.55"/>
<circle cx="184.2" cy="196.6" r="2.55"/>
<circle cx="171.3" cy="185.9" r="2.55"/>
<circle cx="171.3" cy="191.2" r="2.55"/>
<circle cx="177.7" cy="198.7" r="2.55"/>
<circle cx="169.2" cy="197.6" r="2.55"/>
<circle cx="162.8" cy="196.6" r="2.55"/>
<circle cx="182" cy="182.7" r="2.55"/>
<circle cx="177.7" cy="184.8" r="2.55"/>
<circle cx="187.4" cy="182.7" r="2.55"/>
<circle cx="175.6" cy="193.4" r="2.55"/>
<circle cx="181" cy="189.1" r="2.55"/>
<circle cx="186.3" cy="187" r="2.55"/>
<circle cx="167" cy="190.2" r="2.55"/>
</g>
<rect x="30.4" y="139.8" width="227" height="110.2" fill="none" stroke="#555555" stroke-width="0.9"/>
<line x1="38.3" y1="250" x2="38.3" y2="252" stroke="#555555" stroke-width="0.8"/>
<text x="38.3" y="260.2" text-anchor="middle" font-size="7" fill="#262626" textLength="10.18" lengthAdjust="spacingAndGlyphs">4.5</text>
<line x1="80.5" y1="250" x2="80.5" y2="252" stroke="#555555" stroke-width="0.8"/>
<text x="80.5" y="260.2" text-anchor="middle" font-size="7" fill="#262626" textLength="10.18" lengthAdjust="spacingAndGlyphs">5.0</text>
<line x1="122.7" y1="250" x2="122.7" y2="252" stroke="#555555" stroke-width="0.8"/>
<text x="122.7" y="260.2" text-anchor="middle" font-size="7" fill="#262626" textLength="10.18" lengthAdjust="spacingAndGlyphs">5.5</text>
<line x1="164.9" y1="250" x2="164.9" y2="252" stroke="#555555" stroke-width="0.8"/>
<text x="164.9" y="260.2" text-anchor="middle" font-size="7" fill="#262626" textLength="10.18" lengthAdjust="spacingAndGlyphs">6.0</text>
<line x1="207.1" y1="250" x2="207.1" y2="252" stroke="#555555" stroke-width="0.8"/>
<text x="207.1" y="260.2" text-anchor="middle" font-size="7" fill="#262626" textLength="10.18" lengthAdjust="spacingAndGlyphs">6.5</text>
<line x1="249.3" y1="250" x2="249.3" y2="252" stroke="#555555" stroke-width="0.8"/>
<text x="249.3" y="260.2" text-anchor="middle" font-size="7" fill="#262626" textLength="10.18" lengthAdjust="spacingAndGlyphs">7.0</text>
<line x1="28.4" y1="236.2" x2="30.4" y2="236.2" stroke="#555555" stroke-width="0.8"/>
<text x="25.5" y="238.7" text-anchor="end" font-size="7" fill="#262626" textLength="9.43" lengthAdjust="spacingAndGlyphs">−1</text>
<line x1="28.4" y1="213.2" x2="30.4" y2="213.2" stroke="#555555" stroke-width="0.8"/>
<text x="25.5" y="215.7" text-anchor="end" font-size="7" fill="#262626" textLength="4.07" lengthAdjust="spacingAndGlyphs">0</text>
<line x1="28.4" y1="190.2" x2="30.4" y2="190.2" stroke="#555555" stroke-width="0.8"/>
<text x="25.5" y="192.7" text-anchor="end" font-size="7" fill="#262626" textLength="4.07" lengthAdjust="spacingAndGlyphs">1</text>
<line x1="28.4" y1="167.2" x2="30.4" y2="167.2" stroke="#555555" stroke-width="0.8"/>
<text x="25.5" y="169.7" text-anchor="end" font-size="7" fill="#262626" textLength="4.07" lengthAdjust="spacingAndGlyphs">2</text>
<line x1="28.4" y1="144.2" x2="30.4" y2="144.2" stroke="#555555" stroke-width="0.8"/>
<text x="25.5" y="146.7" text-anchor="end" font-size="7" fill="#262626" textLength="4.07" lengthAdjust="spacingAndGlyphs">3</text>
<text x="144.4" y="269.9" text-anchor="middle" font-size="8.9" fill="#262626" textLength="255" lengthAdjust="spacingAndGlyphs">Mean of actual and predicted blood glucose value pairs (mmol/L)</text>
<text transform="translate(12.8,194.9) rotate(-90)" x="0" y="0" text-anchor="middle" font-size="8.9" fill="#262626" textLength="42.8" lengthAdjust="spacingAndGlyphs">d (mmol/L)</text>
<rect x="32.9" y="142.2" width="68" height="39.5" rx="1.5" fill="#ffffff" fill-opacity="0.8" stroke="#d5d5d5" stroke-width="0.8"/>
<line x1="36.1" y1="148.1" x2="50" y2="148.1" stroke="#808080" stroke-width="1.1" stroke-dasharray="3.2 1.5"/>
<line x1="36.1" y1="157.8" x2="50" y2="157.8" stroke="#ff2a2a" stroke-width="1.2"/>
<line x1="36.1" y1="167.2" x2="50" y2="167.2" stroke="#ff2a2a" stroke-width="1.2"/>
<circle cx="43.05" cy="176.8" r="2.5" fill="#1f77b4"/>
<text x="54.8" y="150.3" font-size="7.3" fill="#262626" textLength="10.68" lengthAdjust="spacingAndGlyphs">MD</text>
<text x="54.8" y="160" font-size="7.3" fill="#262626" textLength="43.18" lengthAdjust="spacingAndGlyphs">MD+1.96*SD</text>
<text x="54.8" y="169.4" font-size="7.3" fill="#262626" textLength="40.06" lengthAdjust="spacingAndGlyphs">MD-1.96*SD</text>
<text x="54.8" y="179" font-size="7.3" fill="#262626" textLength="40.89" lengthAdjust="spacingAndGlyphs">RG_XGBoost</text>
<clipPath id="cBR"><rect x="302.7" y="139.8" width="227.4" height="110.2"/></clipPath>
<g clip-path="url(#cBR)">
<line x1="304.7" y1="209.5" x2="530.1" y2="209.5" stroke="#808080" stroke-width="1.1" stroke-dasharray="3.2 1.5"/>
<line x1="302.7" y1="183.3" x2="530.1" y2="183.3" stroke="#ff2a2a" stroke-width="1.2"/>
<line x1="302.7" y1="236.2" x2="530.1" y2="236.2" stroke="#ff2a2a" stroke-width="1.2"/>
<polygon points="338.24,224.04 339.57,226.69 345.02,227.63 345.15,227.65 353.72,229.75 364.1,231.9 372.26,231.9 380.52,229.76 380.63,229.74 391.33,227.64 391.53,227.61 391.72,227.6 391.91,227.61 392.1,227.64 399.96,229.35 407.53,227.39 411.39,223.62 415.61,218.32 415.76,218.16 420.06,213.86 420.19,213.74 420.33,213.63 420.48,213.54 420.64,213.46 420.81,213.39 426.9,211.39 430.85,208.39 431.01,208.28 434.99,205.85 440.79,200.95 442.89,191.96 441.87,190.02 439.23,191.31 439.06,191.38 438.87,191.44 438.68,191.48 438.49,191.5 438.29,191.5 438.1,191.48 437.91,191.44 437.73,191.38 437.55,191.3 431.28,188.16 425.65,186.32 421.88,187.77 421.72,187.83 421.55,187.87 421.37,187.89 421.2,187.9 421.02,187.89 420.85,187.87 420.68,187.83 420.51,187.77 415.81,185.94 411.2,187.77 411.12,187.8 404.72,190 404.55,190.05 395.95,192.15 387.56,194.22 379.16,197.35 372.85,200.5 364.46,204.74 358.16,208.98 357.94,209.1 349.95,213.05 343.81,217.08 338.87,222.01"/>
<circle cx="338.65" cy="223.92" r="2.4"/>
<circle cx="339.04" cy="221.98" r="2.4"/>
<circle cx="340.75" cy="220.8" r="2.4"/>
<circle cx="342.7" cy="218.07" r="2.4"/>
<circle cx="344.48" cy="216.57" r="2.4"/>
<circle cx="347.85" cy="214.49" r="2.4"/>
<circle cx="349.97" cy="213.1" r="2.4"/>
<circle cx="352.46" cy="211.63" r="2.4"/>
<circle cx="355.51" cy="210.26" r="2.4"/>
<circle cx="358.31" cy="208.42" r="2.4"/>
<circle cx="361.43" cy="206.55" r="2.4"/>
<circle cx="364.5" cy="204.81" r="2.4"/>
<circle cx="367.55" cy="203.4" r="2.4"/>
<circle cx="370.45" cy="202.15" r="2.4"/>
<circle cx="372.62" cy="200.5" r="2.4"/>
<circle cx="376.26" cy="198.5" r="2.4"/>
<circle cx="378.95" cy="197.65" r="2.4"/>
<circle cx="380.77" cy="197.12" r="2.4"/>
<circle cx="384.98" cy="195.35" r="2.4"/>
<circle cx="387.65" cy="194.54" r="2.4"/>
<circle cx="389.69" cy="193.77" r="2.4"/>
<circle cx="393.44" cy="193.13" r="2.4"/>
<circle cx="397.01" cy="192.24" r="2.4"/>
<circle cx="399.8" cy="191.62" r="2.4"/>
<circle cx="403.02" cy="190.65" r="2.4"/>
<circle cx="405.4" cy="189.37" r="2.4"/>
<circle cx="408.38" cy="188.66" r="2.4"/>
<circle cx="411.6" cy="187.99" r="2.4"/>
<circle cx="415.19" cy="186.36" r="2.4"/>
<circle cx="416.75" cy="186.54" r="2.4"/>
<circle cx="419.75" cy="187.05" r="2.4"/>
<circle cx="424.53" cy="187.04" r="2.4"/>
<circle cx="425.69" cy="186.42" r="2.4"/>
<circle cx="429.11" cy="187.09" r="2.4"/>
<circle cx="431.94" cy="188.3" r="2.4"/>
<circle cx="433.85" cy="189.27" r="2.4"/>
<circle cx="439.1" cy="191.13" r="2.4"/>
<circle cx="442" cy="190.45" r="2.4"/>
<circle cx="441.97" cy="189.92" r="2.4"/>
<circle cx="442.73" cy="192" r="2.4"/>
<circle cx="442.13" cy="194.54" r="2.4"/>
<circle cx="441.92" cy="197.58" r="2.4"/>
<circle cx="441.22" cy="199.89" r="2.4"/>
<circle cx="439.52" cy="202.19" r="2.4"/>
<circle cx="437.46" cy="204.28" r="2.4"/>
<circle cx="435.48" cy="205.64" r="2.4"/>
<circle cx="431.98" cy="207.42" r="2.4"/>
<circle cx="429.39" cy="209.67" r="2.4"/>
<circle cx="426.95" cy="211.34" r="2.4"/>
<circle cx="424.7" cy="212.43" r="2.4"/>
<circle cx="420.98" cy="213.57" r="2.4"/>
<circle cx="417.46" cy="215.83" r="2.4"/>
<circle cx="416.59" cy="217.31" r="2.4"/>
<circle cx="413.19" cy="220.61" r="2.4"/>
<circle cx="412.05" cy="223.04" r="2.4"/>
<circle cx="409.85" cy="224.5" r="2.4"/>
<circle cx="407.78" cy="226.97" r="2.4"/>
<circle cx="405.95" cy="227.72" r="2.4"/>
<circle cx="401.68" cy="229.19" r="2.4"/>
<circle cx="399.59" cy="229.21" r="2.4"/>
<circle cx="396.39" cy="228.33" r="2.4"/>
<circle cx="394.32" cy="227.71" r="2.4"/>
<circle cx="390" cy="228.28" r="2.4"/>
<circle cx="387.53" cy="228.34" r="2.4"/>
<circle cx="383.72" cy="229.26" r="2.4"/>
<circle cx="381.05" cy="229.75" r="2.4"/>
<circle cx="377.46" cy="230.19" r="2.4"/>
<circle cx="374.86" cy="230.94" r="2.4"/>
<circle cx="370.95" cy="232.19" r="2.4"/>
<circle cx="367.61" cy="231.66" r="2.4"/>
<circle cx="364.44" cy="232.04" r="2.4"/>
<circle cx="362.5" cy="231.62" r="2.4"/>
<circle cx="358.41" cy="230.59" r="2.4"/>
<circle cx="356.25" cy="230.29" r="2.4"/>
<circle cx="353.23" cy="229.99" r="2.4"/>
<circle cx="350.55" cy="228.61" r="2.4"/>
<circle cx="347.18" cy="227.69" r="2.4"/>
<circle cx="343.84" cy="227.59" r="2.4"/>
<circle cx="340.26" cy="227.04" r="2.4"/>
<circle cx="339.84" cy="226.19" r="2.4"/>
<circle cx="313.1" cy="239.6" r="2.55"/>
<circle cx="325.5" cy="235.9" r="2.55"/>
<circle cx="328.7" cy="238.1" r="2.55"/>
<circle cx="331.9" cy="235.3" r="2.55"/>
<circle cx="329.8" cy="224.2" r="2.55"/>
<circle cx="333" cy="228.4" r="2.55"/>
<circle cx="335.1" cy="222" r="2.55"/>
<circle cx="351.6" cy="234.4" r="2.55"/>
<circle cx="358" cy="238.7" r="2.55"/>
<circle cx="364.4" cy="240.2" r="2.55"/>
<circle cx="376.8" cy="238.1" r="2.55"/>
<circle cx="383.2" cy="245.1" r="2.55"/>
<circle cx="372.5" cy="234.9" r="2.55"/>
<circle cx="359.7" cy="232.7" r="2.55"/>
<circle cx="346.9" cy="230.6" r="2.55"/>
<circle cx="396" cy="230.6" r="2.55"/>
<circle cx="387.4" cy="229.5" r="2.55"/>
<circle cx="440.6" cy="215.2" r="2.55"/>
<circle cx="448.1" cy="206.7" r="2.55"/>
<circle cx="449.1" cy="198.2" r="2.55"/>
<circle cx="455.5" cy="190.3" r="2.55"/>
<circle cx="451.3" cy="187.5" r="2.55"/>
<circle cx="466.2" cy="188.5" r="2.55"/>
<circle cx="476.9" cy="190.3" r="2.55"/>
<circle cx="485.4" cy="189.6" r="2.55"/>
<circle cx="478" cy="184.7" r="2.55"/>
<circle cx="464.1" cy="182.1" r="2.55"/>
<circle cx="459.8" cy="183.2" r="2.55"/>
<circle cx="453.4" cy="181.1" r="2.55"/>
<circle cx="437.4" cy="180" r="2.55"/>
<circle cx="444.9" cy="186.4" r="2.55"/>
<circle cx="438.4" cy="206.7" r="2.55"/>
<circle cx="411.7" cy="230.2" r="2.55"/>
<circle cx="404.3" cy="225.9" r="2.55"/>
<circle cx="501.2" cy="144.3" r="2.55"/>
<circle cx="483.9" cy="153" r="2.55"/>
<circle cx="508.7" cy="152.3" r="2.55"/>
<circle cx="477.5" cy="157" r="2.55"/>
<circle cx="487.9" cy="158.9" r="2.55"/>
<circle cx="483.2" cy="163.6" r="2.55"/>
<circle cx="489.3" cy="162.5" r="2.55"/>
<circle cx="496.4" cy="160.8" r="2.55"/>
<circle cx="504" cy="160.8" r="2.55"/>
<circle cx="470.4" cy="164.1" r="2.55"/>
<circle cx="473.7" cy="167.9" r="2.55"/>
<circle cx="483.2" cy="167.9" r="2.55"/>
<circle cx="498.1" cy="166.5" r="2.55"/>
<circle cx="519.4" cy="167.9" r="2.55"/>
<circle cx="452" cy="168.4" r="2.55"/>
<circle cx="458.6" cy="168.8" r="2.55"/>
<circle cx="468.5" cy="171.9" r="2.55"/>
<circle cx="472.1" cy="173.1" r="2.55"/>
<circle cx="478" cy="175" r="2.55"/>
<circle cx="480.4" cy="177.8" r="2.55"/>
<circle cx="485.1" cy="177.8" r="2.55"/>
<circle cx="494.5" cy="175.5" r="2.55"/>
<circle cx="498.8" cy="174.3" r="2.55"/>
<circle cx="506.4" cy="171.9" r="2.55"/>
<circle cx="506.4" cy="174.3" r="2.55"/>
<circle cx="422.5" cy="177.1" r="2.55"/>
<circle cx="434.3" cy="174.3" r="2.55"/>
<circle cx="439" cy="177.8" r="2.55"/>
<circle cx="442.5" cy="176.6" r="2.55"/>
<circle cx="435.5" cy="181.4" r="2.55"/>
<circle cx="453.2" cy="179" r="2.55"/>
<circle cx="459.1" cy="176.6" r="2.55"/>
<circle cx="462.6" cy="175.5" r="2.55"/>
<circle cx="465" cy="179" r="2.55"/>
<circle cx="456.7" cy="182.5" r="2.55"/>
<circle cx="461.5" cy="182.5" r="2.55"/>
<circle cx="453.2" cy="184.9" r="2.55"/>
<circle cx="478" cy="184.9" r="2.55"/>
<circle cx="485.1" cy="189.2" r="2.55"/>
<circle cx="478" cy="190.8" r="2.55"/>
<circle cx="466.2" cy="189.6" r="2.55"/>
<circle cx="455.5" cy="190.1" r="2.55"/>
<circle cx="447.3" cy="190.8" r="2.55"/>
<circle cx="443.7" cy="186.8" r="2.55"/>
<circle cx="437.8" cy="186.1" r="2.55"/>
<circle cx="430.7" cy="189.6" r="2.55"/>
<circle cx="426" cy="187.3" r="2.55"/>
<circle cx="414.2" cy="187.3" r="2.55"/>
<circle cx="409.5" cy="190.8" r="2.55"/>
<circle cx="402.4" cy="192" r="2.55"/>
<circle cx="428.4" cy="193.2" r="2.55"/>
<circle cx="422.2" cy="176.8" r="2.55"/>
<circle cx="434" cy="173.8" r="2.55"/>
<circle cx="440.4" cy="214.9" r="2.55"/>
<circle cx="438.2" cy="178.5" r="2.55"/>
</g>
<rect x="302.7" y="139.8" width="227.4" height="110.2" fill="none" stroke="#555555" stroke-width="0.9"/>
<line x1="315.7" y1="250" x2="315.7" y2="252" stroke="#555555" stroke-width="0.8"/>
<text x="315.7" y="260.2" text-anchor="middle" font-size="7" fill="#262626" textLength="10.18" lengthAdjust="spacingAndGlyphs">4.5</text>
<line x1="356.42" y1="250" x2="356.42" y2="252" stroke="#555555" stroke-width="0.8"/>
<text x="356.42" y="260.2" text-anchor="middle" font-size="7" fill="#262626" textLength="10.18" lengthAdjust="spacingAndGlyphs">5.0</text>
<line x1="397.14" y1="250" x2="397.14" y2="252" stroke="#555555" stroke-width="0.8"/>
<text x="397.14" y="260.2" text-anchor="middle" font-size="7" fill="#262626" textLength="10.18" lengthAdjust="spacingAndGlyphs">5.5</text>
<line x1="437.86" y1="250" x2="437.86" y2="252" stroke="#555555" stroke-width="0.8"/>
<text x="437.86" y="260.2" text-anchor="middle" font-size="7" fill="#262626" textLength="10.18" lengthAdjust="spacingAndGlyphs">6.0</text>
<line x1="478.58" y1="250" x2="478.58" y2="252" stroke="#555555" stroke-width="0.8"/>
<text x="478.58" y="260.2" text-anchor="middle" font-size="7" fill="#262626" textLength="10.18" lengthAdjust="spacingAndGlyphs">6.5</text>
<line x1="519.3" y1="250" x2="519.3" y2="252" stroke="#555555" stroke-width="0.8"/>
<text x="519.3" y="260.2" text-anchor="middle" font-size="7" fill="#262626" textLength="10.18" lengthAdjust="spacingAndGlyphs">7.0</text>
<line x1="300.7" y1="234" x2="302.7" y2="234" stroke="#555555" stroke-width="0.8"/>
<text x="297.8" y="236.5" text-anchor="end" font-size="7" fill="#262626" textLength="9.43" lengthAdjust="spacingAndGlyphs">−1</text>
<line x1="300.7" y1="211.75" x2="302.7" y2="211.75" stroke="#555555" stroke-width="0.8"/>
<text x="297.8" y="214.25" text-anchor="end" font-size="7" fill="#262626" textLength="4.07" lengthAdjust="spacingAndGlyphs">0</text>
<line x1="300.7" y1="189.5" x2="302.7" y2="189.5" stroke="#555555" stroke-width="0.8"/>
<text x="297.8" y="192" text-anchor="end" font-size="7" fill="#262626" textLength="4.07" lengthAdjust="spacingAndGlyphs">1</text>
<line x1="300.7" y1="167.25" x2="302.7" y2="167.25" stroke="#555555" stroke-width="0.8"/>
<text x="297.8" y="169.75" text-anchor="end" font-size="7" fill="#262626" textLength="4.07" lengthAdjust="spacingAndGlyphs">2</text>
<line x1="300.7" y1="145" x2="302.7" y2="145" stroke="#555555" stroke-width="0.8"/>
<text x="297.8" y="147.5" text-anchor="end" font-size="7" fill="#262626" textLength="4.07" lengthAdjust="spacingAndGlyphs">3</text>
<text x="416.9" y="269.9" text-anchor="middle" font-size="8.9" fill="#262626" textLength="255" lengthAdjust="spacingAndGlyphs">Mean of actual and predicted blood glucose value pairs (mmol/L)</text>
<text transform="translate(285.1,194.9) rotate(-90)" x="0" y="0" text-anchor="middle" font-size="8.9" fill="#262626" textLength="42.8" lengthAdjust="spacingAndGlyphs">d (mmol/L)</text>
<rect x="305.1" y="142.2" width="69.3" height="39.5" rx="1.5" fill="#ffffff" fill-opacity="0.8" stroke="#d5d5d5" stroke-width="0.8"/>
<line x1="308.3" y1="148.1" x2="322.2" y2="148.1" stroke="#808080" stroke-width="1.1" stroke-dasharray="3.2 1.5"/>
<line x1="308.3" y1="157.8" x2="322.2" y2="157.8" stroke="#ff2a2a" stroke-width="1.2"/>
<line x1="308.3" y1="167.2" x2="322.2" y2="167.2" stroke="#ff2a2a" stroke-width="1.2"/>
<circle cx="315.25" cy="176.8" r="2.5" fill="#1f77b4"/>
<text x="327" y="150.3" font-size="7.3" fill="#262626" textLength="10.68" lengthAdjust="spacingAndGlyphs">MD</text>
<text x="327" y="160" font-size="7.3" fill="#262626" textLength="43.18" lengthAdjust="spacingAndGlyphs">MD+1.96*SD</text>
<text x="327" y="169.4" font-size="7.3" fill="#262626" textLength="40.06" lengthAdjust="spacingAndGlyphs">MD-1.96*SD</text>
<text x="327" y="179" font-size="7.3" fill="#262626" textLength="44.4" lengthAdjust="spacingAndGlyphs">RG_LightGBM</text>
</g></svg>
</body></html>
